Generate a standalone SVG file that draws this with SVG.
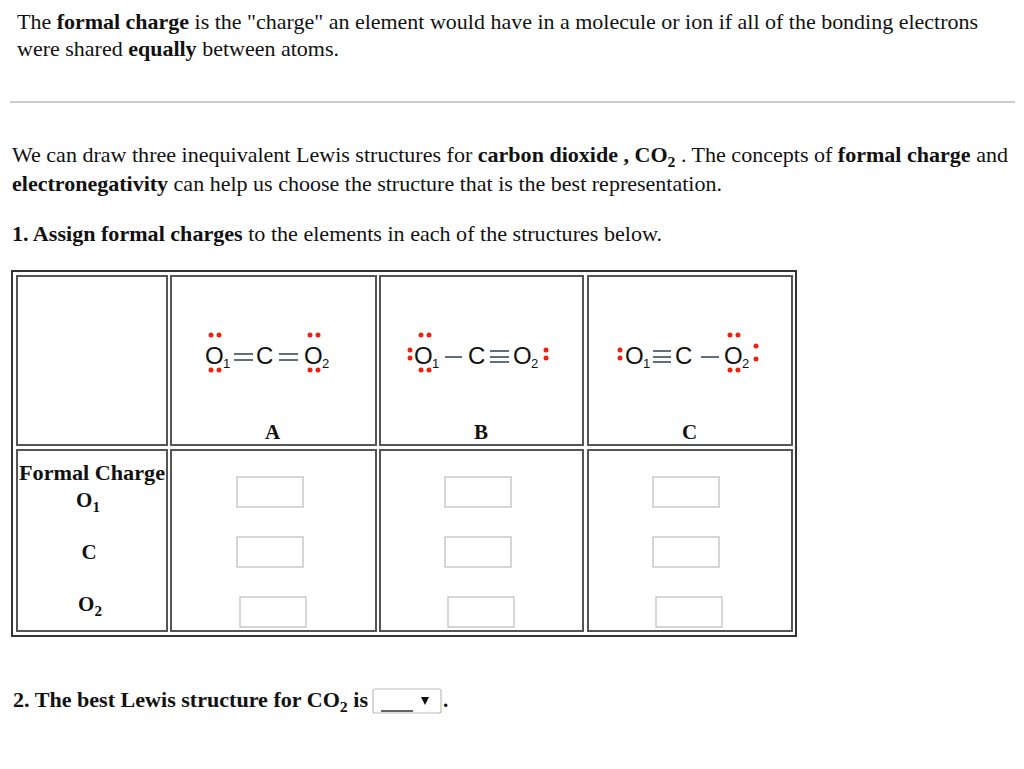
<svg xmlns="http://www.w3.org/2000/svg" width="1024" height="769" viewBox="0 0 1024 769">
<style>
.t{font-family:"Liberation Serif",serif;font-size:21px;fill:#111}
.b{font-weight:bold}
.l{font-family:"Liberation Sans",sans-serif;font-size:24px;fill:#111}
.s{font-family:"Liberation Sans",sans-serif;font-size:13px;fill:#111}
.bond{stroke:#3a4a5a;stroke-width:1.6}
.cell{fill:none;stroke:#555;stroke-width:2}
.inp{fill:#fff;stroke:#bbb;stroke-width:1.2}
</style>
<rect width="1024" height="769" fill="#fff"/>
<text class="t" x="17" y="29" textLength="961" lengthAdjust="spacingAndGlyphs">The <tspan class="b">formal charge</tspan> is the "charge" an element would have in a molecule or ion if all of the bonding electrons</text>
<text class="t" x="17" y="56" textLength="322" lengthAdjust="spacingAndGlyphs">were shared <tspan class="b">equally</tspan> between atoms.</text>
<line x1="10" y1="102" x2="1015" y2="102" stroke="#bbb" stroke-width="1.5"/>
<text class="t" x="12" y="162" textLength="996" lengthAdjust="spacingAndGlyphs">We can draw three inequivalent Lewis structures for <tspan class="b">carbon dioxide , CO<tspan font-size="15" dy="5">2</tspan></tspan><tspan dy="-5"> . The concepts of </tspan><tspan class="b">formal charge</tspan> and</text>
<text class="t" x="12" y="191" textLength="710" lengthAdjust="spacingAndGlyphs"><tspan class="b">electronegativity</tspan> can help us choose the structure that is the best representation.</text>
<text class="t" x="12" y="241" textLength="650" lengthAdjust="spacingAndGlyphs"><tspan class="b">1. Assign formal charges</tspan> to the elements in each of the structures below.</text>
<g id="table">
<rect x="12" y="271" width="784" height="365" fill="none" stroke="#333" stroke-width="2"/>
<rect class="cell" x="17" y="276" width="150" height="169"/>
<rect class="cell" x="171" y="276" width="205" height="169"/>
<rect class="cell" x="380" y="276" width="203" height="169"/>
<rect class="cell" x="588" y="276" width="204" height="169"/>
<rect class="cell" x="17" y="450" width="150" height="181"/>
<rect class="cell" x="171" y="450" width="205" height="181"/>
<rect class="cell" x="380" y="450" width="203" height="181"/>
<rect class="cell" x="588" y="450" width="204" height="181"/>
</g>
<g id="A">
<text class="l" x="205" y="364">O</text><text class="s" x="223" y="368">1</text>
<line class="bond" x1="234" y1="354" x2="253" y2="354"/><line class="bond" x1="234" y1="360" x2="253" y2="360"/>
<text class="l" x="256" y="364">C</text>
<line class="bond" x1="279" y1="354" x2="298" y2="354"/><line class="bond" x1="279" y1="360" x2="298" y2="360"/>
<text class="l" x="304" y="364">O</text><text class="s" x="322" y="368">2</text>
<g fill="#e21">
<circle cx="211" cy="335" r="2.5"/><circle cx="219" cy="335" r="2.5"/><circle cx="211" cy="370" r="2.5"/><circle cx="219" cy="370" r="2.5"/>
<circle cx="310" cy="335" r="2.5"/><circle cx="318" cy="335" r="2.5"/><circle cx="310" cy="370" r="2.5"/><circle cx="318" cy="370" r="2.5"/>
</g>
<text class="t b" x="265" y="439">A</text>
</g>
<g id="B">
<text class="l" x="414" y="364">O</text><text class="s" x="432" y="368">1</text>
<line class="bond" x1="445" y1="357" x2="462" y2="357"/>
<text class="l" x="468" y="364">C</text>
<line class="bond" x1="490" y1="351" x2="509" y2="351"/><line class="bond" x1="490" y1="357" x2="509" y2="357"/><line class="bond" x1="490" y1="362" x2="509" y2="362"/>
<text class="l" x="513" y="364">O</text><text class="s" x="531" y="368">2</text>
<g fill="#e21">
<circle cx="410" cy="350" r="2.5"/><circle cx="410" cy="358" r="2.5"/>
<circle cx="421" cy="335" r="2.5"/><circle cx="429" cy="335" r="2.5"/><circle cx="421" cy="370" r="2.5"/><circle cx="429" cy="370" r="2.5"/>
<circle cx="546" cy="350" r="2.5"/><circle cx="546" cy="358" r="2.5"/>
</g>
<text class="t b" x="474" y="439">B</text>
</g>
<g id="C">
<text class="l" x="625" y="364">O</text><text class="s" x="643" y="368">1</text>
<line class="bond" x1="653" y1="351" x2="671" y2="351"/><line class="bond" x1="653" y1="357" x2="671" y2="357"/><line class="bond" x1="653" y1="362" x2="671" y2="362"/>
<text class="l" x="675" y="364">C</text>
<line class="bond" x1="701" y1="357" x2="719" y2="357"/>
<text class="l" x="724" y="364">O</text><text class="s" x="742" y="368">2</text>
<g fill="#e21">
<circle cx="620" cy="350" r="2.5"/><circle cx="620" cy="358" r="2.5"/>
<circle cx="730" cy="335" r="2.5"/><circle cx="738" cy="335" r="2.5"/><circle cx="730" cy="370" r="2.5"/><circle cx="738" cy="370" r="2.5"/>
<circle cx="756" cy="346" r="2.5"/><circle cx="756" cy="359" r="2.5"/>
</g>
<text class="t b" x="682" y="439">C</text>
</g>
<g id="labels">
<text class="t b" x="92" y="480" text-anchor="middle" textLength="146" lengthAdjust="spacingAndGlyphs">Formal Charge</text>
<text class="t b" x="88" y="507" text-anchor="middle">O<tspan font-size="15" dy="5">1</tspan></text>
<text class="t b" x="89" y="559" text-anchor="middle">C</text>
<text class="t b" x="90" y="611" text-anchor="middle">O<tspan font-size="15" dy="5">2</tspan></text>
</g>
<g id="inputs">
<rect class="inp" x="237" y="477" width="66" height="30"/><rect class="inp" x="237" y="537" width="66" height="30"/><rect class="inp" x="240" y="597" width="66" height="30"/>
<rect class="inp" x="445" y="477" width="66" height="30"/><rect class="inp" x="445" y="537" width="66" height="30"/><rect class="inp" x="448" y="597" width="66" height="30"/>
<rect class="inp" x="653" y="477" width="66" height="30"/><rect class="inp" x="653" y="537" width="66" height="30"/><rect class="inp" x="656" y="597" width="66" height="30"/>
</g>
<text class="t b" x="13" y="707" textLength="355" lengthAdjust="spacingAndGlyphs">2. The best Lewis structure for CO<tspan font-size="15" dy="5">2</tspan><tspan dy="-5"> is</tspan></text>
<g id="select">
<rect class="inp" x="373" y="689" width="68" height="24" rx="2"/>
<line x1="381" y1="711" x2="413" y2="711" stroke="#111" stroke-width="1.3"/>
<polygon points="421,697 429,697 425,705" fill="#111"/>
</g>
<text class="t b" x="443" y="707">.</text>
</svg>
